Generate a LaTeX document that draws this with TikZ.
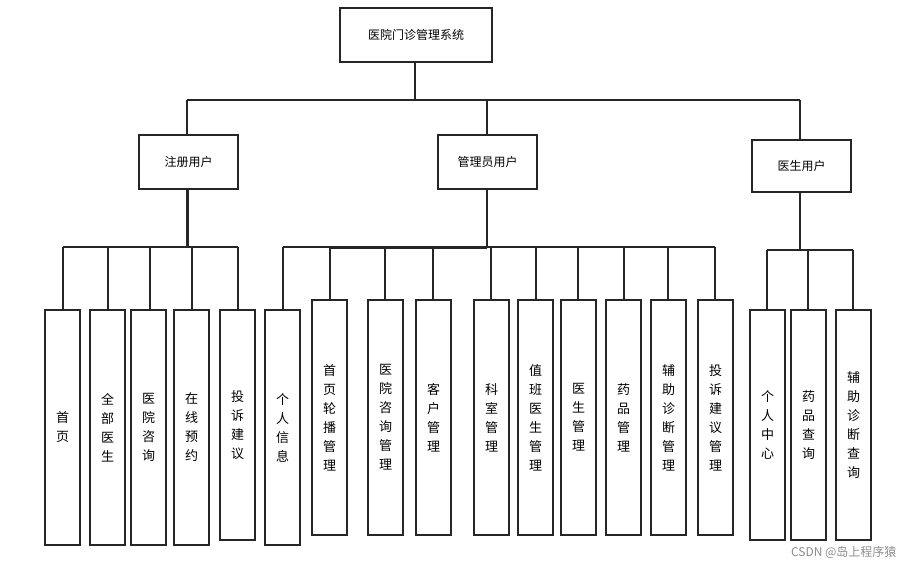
\documentclass[tikz,border=0pt]{standalone}
\usepackage{fontspec}
\newfontfamily\cjk{Noto Sans CJK SC}
\begin{document}
\begin{tikzpicture}[x=1pt,y=-1pt,
  box/.style={draw=black!85,line width=1.6pt,inner sep=0pt,font=\cjk\fontsize{12}{14}\selectfont},
  lf/.style={draw=black!85,line width=1.6pt,inner sep=0pt,align=center,font=\cjk\fontsize{13}{19}\selectfont},
  ln/.style={line width=1.6pt,black!85}]
\useasboundingbox (0,0) rectangle (907,571);
\newcommand\bx[6]{\node[#1,minimum width=#4-#3,minimum height=#6-#5] (#2) at ({(#3+#4)/2},{(#5+#6)/2})}
\bx{box}{root}{340}{492}{8}{62} {医院门诊管理系统};
\bx{box}{reg}{139}{238}{135}{189} {注册用户};
\bx{box}{adm}{438}{537}{135}{189} {管理员用户};
\bx{box}{doc}{752}{851}{140}{192} {医生用户};
% leaves
\bx{lf}{r1}{45}{80}{310}{545} {首\\页};
\bx{lf}{r2}{90}{125}{310}{545} {全\\部\\医\\生};
\bx{lf}{r3}{131}{166}{310}{545} {医\\院\\咨\\询};
\bx{lf}{r4}{174}{209}{310}{545} {在\\线\\预\\约};
\bx{lf}{r5}{220}{255}{310}{540} {投\\诉\\建\\议};
\bx{lf}{a1}{265}{300}{310}{545} {个\\人\\信\\息};
\bx{lf}{a2}{312}{347}{300}{535} {首\\页\\轮\\播\\管\\理};
\bx{lf}{a3}{368}{403}{300}{535} {医\\院\\咨\\询\\管\\理};
\bx{lf}{a4}{416}{451}{300}{535} {客\\户\\管\\理};
\bx{lf}{a5}{474}{509}{300}{535} {科\\室\\管\\理};
\bx{lf}{a6}{518}{553}{300}{535} {值\\班\\医\\生\\管\\理};
\bx{lf}{a7}{561}{596}{300}{535} {医\\生\\管\\理};
\bx{lf}{a8}{606}{641}{300}{535} {药\\品\\管\\理};
\bx{lf}{a9}{651}{686}{300}{535} {辅\\助\\诊\\断\\管\\理};
\bx{lf}{a10}{698}{733}{300}{535} {投\\诉\\建\\议\\管\\理};
\bx{lf}{d1}{750}{785}{310}{540} {个\\人\\中\\心};
\bx{lf}{d2}{791}{826}{310}{540} {药\\品\\查\\询};
\bx{lf}{d3}{836}{871}{310}{540} {辅\\助\\诊\\断\\查\\询};
% top bus
\coordinate (tb) at (415,100);
\draw[ln] (root.south -| tb) -- (tb);
\draw[ln] (187,100) -- (800,100);
\draw[ln] (187,100) -- (187,135);
\draw[ln] (487,100) -- (487,135);
\draw[ln] (800,100) -- (800,140);
% reg bus
\draw[line width=3pt,black!85] (187,189) -- (187,247);
\draw[ln] (63,247) -- (238,247);
\foreach \n/\x in {r1/63,r2/108,r3/150,r4/192,r5/238} \draw[ln] (\x,247) -- (\x,310);
% adm bus
\draw[ln] (487,189) -- (487,247);
\draw[ln] (283,247) -- (715,247);
\draw[line width=3pt,black!85] (330,247) -- (487,247);
\foreach \x/\y in {283/310,330/300,385/300,433/300,491/300,536/300,578/300,624/300,668/300,715/300} \draw[ln] (\x,247) -- (\x,\y);
% doc bus
\draw[ln] (800,192) -- (800,250);
\draw[ln] (767,250) -- (853,250);
\foreach \x in {767,808,853} \draw[ln] (\x,250) -- (\x,310);
\node[font=\cjk\fontsize{12}{14}\selectfont,text=black!45,anchor=east] (wm) at (900,552) {CSDN @岛上程序猿};
\end{tikzpicture}
\end{document}
